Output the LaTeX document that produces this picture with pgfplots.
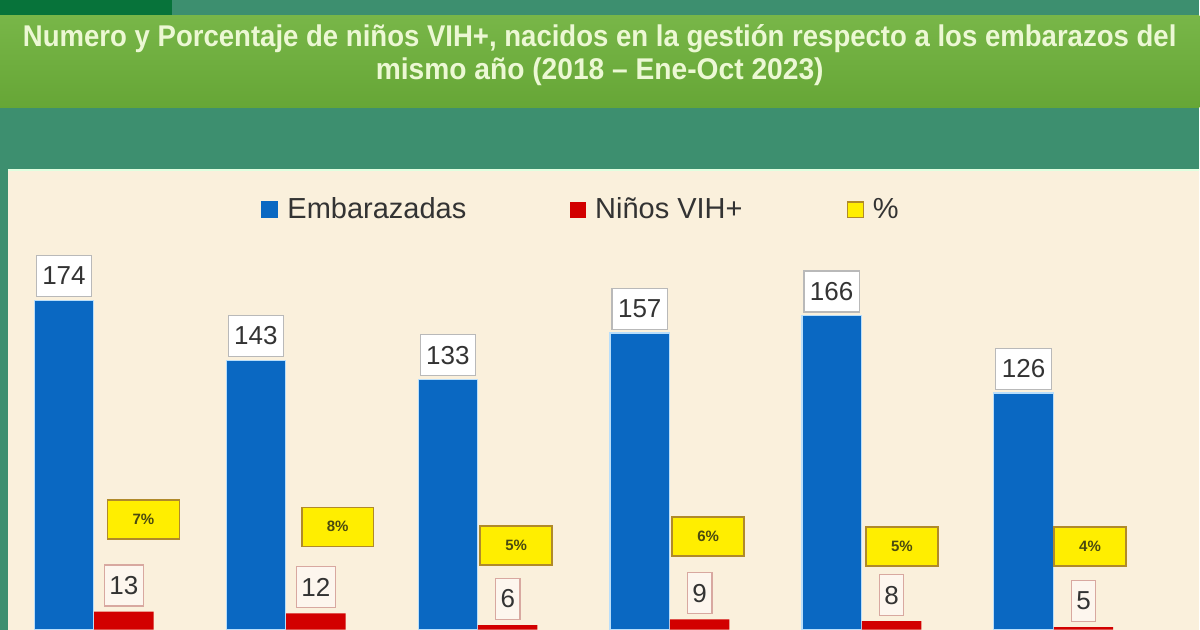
\documentclass[border=0pt]{standalone}
\usepackage{pgfplots}
\pgfplotsset{compat=1.18}
\usepackage{fontspec}
\setmainfont{Liberation Sans}
\usepackage{graphicx}
\definecolor{tealbg}{HTML}{3D8F6F}
\definecolor{darkgreen}{HTML}{07733A}
\definecolor{greentop}{HTML}{78B648}
\definecolor{greenbot}{HTML}{66A636}
\definecolor{beige}{HTML}{FAF0DC}
\definecolor{titletext}{HTML}{ECF8D4}
\definecolor{barblue}{HTML}{0A68C2}
\definecolor{bluedge}{HTML}{B9DEFA}
\definecolor{barred}{HTML}{D20000}
\definecolor{pctyellow}{HTML}{FFEE00}
\definecolor{pctborder}{HTML}{B08A2A}
\definecolor{pcttext}{HTML}{4A4A10}
\definecolor{labeltext}{HTML}{333333}
\definecolor{redlabborder}{HTML}{D8A8A0}
\definecolor{redlabfill}{HTML}{FDF6EE}
\begin{document}
\begin{tikzpicture}[x=1pt,y=1pt]
\fill[tealbg] (0,0) rectangle (600,315);
\fill[darkgreen] (0,307) rectangle (86,315);
\shade[top color=greentop,bottom color=greenbot] (0,261) rectangle (600,307);
\fill[beige] (4,0) rectangle (600,230);
\draw[green!12!white, line width=0.6pt] (4,230) -- (600,230);
\node[anchor=base, text=titletext, inner sep=0pt] at (300,291.5)
  {\bfseries\fontsize{15}{17}\selectfont\resizebox{577pt}{\height}{Numero y Porcentaje de niños VIH+, nacidos en la gestión respecto a los embarazos del}};
\node[anchor=base, text=titletext, inner sep=0pt] at (300,275)
  {\bfseries\fontsize{15}{17}\selectfont\resizebox{224pt}{\height}{mismo año (2018 – Ene-Oct 2023)}};
\useasboundingbox (0,0) rectangle (600,315);
\begin{axis}[
  at={(0pt,0pt)}, anchor=south west,
  scale only axis, width=600pt, height=230pt,
  xmin=-0.4896, xmax=5.760, ymin=3.62, ymax=241.34,
  hide axis, clip=true,
  /pgf/number format/assume math mode=true,
  legend columns=3,
  legend cell align=left,
  legend style={at={(0.2175,0.913)}, anchor=west, draw=none, fill=none,
    inner sep=0pt, text=labeltext, font=\fontsize{14.5}{16}\selectfont,
    /tikz/every odd column/.append style={column sep=2.5pt},
    /tikz/every even column/.append style={column sep=50pt}},
]
\addplot[ybar, bar width=0.31, bar shift=-0.156, fill=barblue, draw=bluedge, line width=0.6pt,
  nodes near coords,
  nodes near coords style={draw=gray!55, fill=white, text=labeltext,
    font=\fontsize{13}{13}\selectfont, inner xsep=3pt, inner ysep=0pt,
    minimum height=20.5pt, anchor=south, xshift=-15pt, yshift=1.5pt, line width=0.6pt},
  legend image code/.code={\fill[barblue] (0pt,-4pt) rectangle (8pt,4pt);}]
  coordinates {(0,174) (1,143) (2,133) (3,157) (4,166) (5,126)};
\addlegendentry{Embarazadas}
\addplot[ybar, bar width=0.31, bar shift=0.156, fill=barred, draw=none,
  nodes near coords,
  nodes near coords style={draw=redlabborder, fill=redlabfill, text=labeltext,
    font=\fontsize{13}{13}\selectfont, inner xsep=2.5pt, inner ysep=0pt,
    minimum height=20.5pt, anchor=south, xshift=15pt, yshift=2.5pt, line width=0.6pt},
  legend image code/.code={\fill[barred] (0pt,-4pt) rectangle (8pt,4pt);}]
  coordinates {(0,13) (1,12) (2,6) (3,9) (4,8) (5,5)};
\addlegendentry{Niños VIH+\hspace{9pt}}
\addplot[draw=none, mark=none, nodes near coords, point meta=explicit symbolic,
  nodes near coords style={anchor=center, draw=pctborder, fill=pctyellow, text=pcttext,
    font=\bfseries\fontsize{7.5}{8}\selectfont, minimum width=36pt, minimum height=19.5pt,
    inner sep=0pt, line width=0.8pt},
  legend image code/.code={\draw[fill=pctyellow, draw=pctborder, line width=0.6pt] (0pt,-4pt) rectangle (8pt,4pt);}]
  coordinates {(0.258,60.5) [7\%] (1.27,56.8) [8\%] (2.20,47.0) [5\%] (3.20,51.7) [6\%] (4.21,46.5) [5\%] (5.19,46.5) [4\%]};
\addlegendentry{\%}
\end{axis}
\end{tikzpicture}
\end{document}
